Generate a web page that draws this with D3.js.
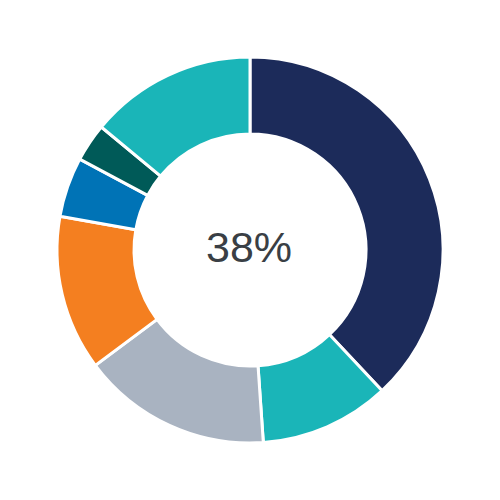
<!DOCTYPE html>
<html>
<head>
<meta charset="utf-8">
<script src="https://cdn.jsdelivr.net/npm/d3@7"></script>
<style>
  html, body { margin: 0; padding: 0; background: #fff; }
</style>
</head>
<body>
<div id="chart"></div>
<script>
const categories = ['A', 'B', 'C', 'D', 'E', 'F', 'G'];
const values = [38, 10.9, 15.9, 13, 5, 3.2, 14];
const colors = ['#1c2b5a', '#1ab5b8', '#a9b3c1', '#f47f20', '#0073b6', '#005a58', '#1ab5b8'];
const centerLabel = '38%';

const width = 500;
const height = 500;
const outerRadius = 193;
const innerRadius = 116;

const svg = d3.select('#chart').append('svg')
  .attr('width', width)
  .attr('height', height)
  .append('g')
  .attr('transform', `translate(${width / 2},${height / 2})`);

const pie = d3.pie().sort(null).value((d) => d.value);
const arc = d3.arc().innerRadius(innerRadius).outerRadius(outerRadius);

const data = categories.map((c, i) => ({ name: c, value: values[i], color: colors[i] }));

svg.selectAll('path')
  .data(pie(data))
  .enter()
  .append('path')
  .attr('d', arc)
  .attr('fill', (d) => d.data.color)
  .attr('stroke', '#fff')
  .attr('stroke-width', 3);

svg.append('text')
  .attr('x', -1)
  .attr('y', 12)
  .attr('text-anchor', 'middle')
  .style('font-family', '"Liberation Sans", Arial, sans-serif')
  .style('font-size', '43px')
  .style('fill', '#3a3f45')
  .text(centerLabel);
</script>
</body>
</html>
